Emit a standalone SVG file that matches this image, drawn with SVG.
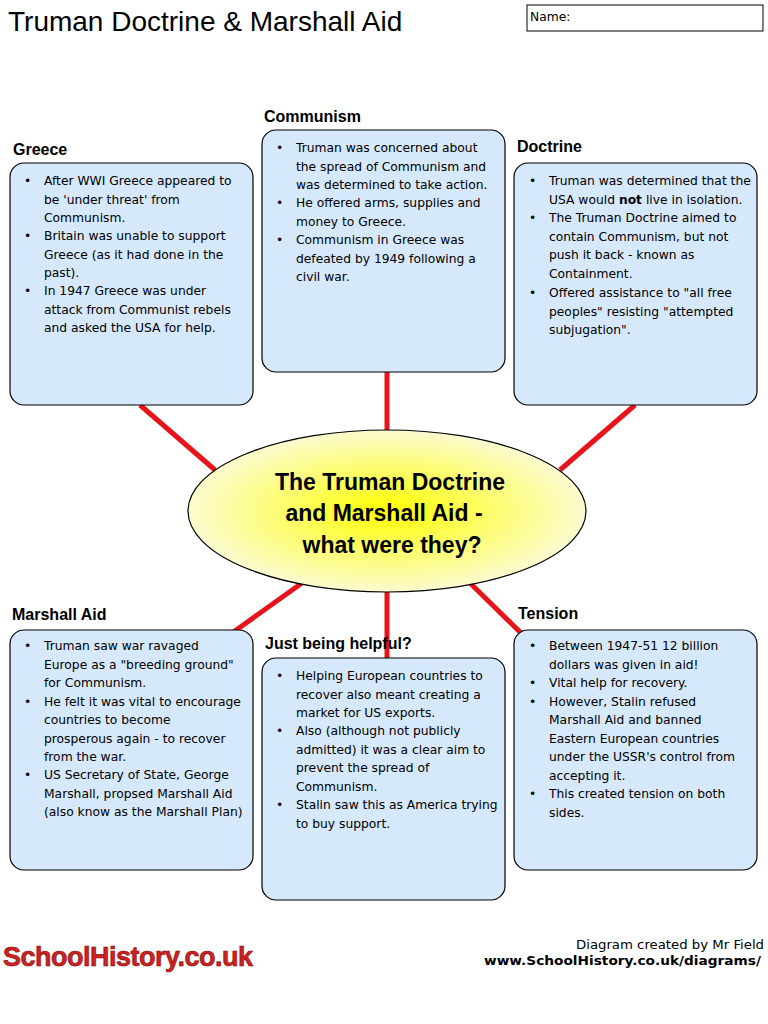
<svg xmlns="http://www.w3.org/2000/svg" width="768" height="1024" viewBox="0 0 768 1024">
<style>
.box{fill:#d6e8fb;stroke:#000;stroke-width:1.2}
.t{font-family:"DejaVu Sans",Verdana,sans-serif;font-size:12.3px;fill:#000}
.h{font-family:"Liberation Sans",Arial,sans-serif;font-size:16px;font-weight:bold;fill:#000}
.c{stroke:#e8141c;stroke-width:5}
.ct{font-family:"Liberation Sans",Arial,sans-serif;font-size:23px;font-weight:bold}
</style>
<defs>
<radialGradient id="g" cx="0.5" cy="0.5" r="0.5">
<stop offset="0" stop-color="#ffff00"/><stop offset="1" stop-color="#fbfbd0"/>
</radialGradient>
</defs>
<rect width="768" height="1024" fill="#fff"/>
<text x="8" y="31" font-family="Liberation Sans,Arial,sans-serif" font-size="28" fill="#000">Truman Doctrine &amp; Marshall Aid</text>
<g id="name"><rect x="527" y="5" width="236" height="26" fill="#fff" stroke="#000"/><text x="530" y="21" class="t">Name:</text></g>
<g id="connectors">
<line class="c" x1="140" y1="405" x2="215" y2="470"/>
<line class="c" x1="387" y1="372" x2="387" y2="432"/>
<line class="c" x1="635" y1="405" x2="560" y2="470"/>
<line class="c" x1="302" y1="583" x2="232" y2="633"/>
<line class="c" x1="387" y1="590" x2="387" y2="658"/>
<line class="c" x1="470" y1="583" x2="522" y2="634"/>
</g>
<g id="center">
<ellipse cx="387" cy="511" rx="199" ry="81" fill="url(#g)" stroke="#000" stroke-width="1.2"/>
<text x="390" y="490" text-anchor="middle" class="ct">The Truman Doctrine</text>
<text x="384" y="521" text-anchor="middle" class="ct">and Marshall Aid -</text>
<text x="392" y="553" text-anchor="middle" class="ct">what were they?</text>
</g>
<g id="greece">
<text x="13" y="155" class="h">Greece</text>
<rect class="box" x="10" y="163" width="243" height="242" rx="14"/>
<text class="t"><tspan x="24" y="185">•</tspan><tspan x="44" y="185">After WWI Greece appeared to</tspan><tspan x="44" y="204">be 'under threat' from</tspan><tspan x="44" y="222">Communism.</tspan><tspan x="24" y="240">•</tspan><tspan x="44" y="240">Britain was unable to support</tspan><tspan x="44" y="259">Greece (as it had done in the</tspan><tspan x="44" y="277">past).</tspan><tspan x="24" y="295">•</tspan><tspan x="44" y="295">In 1947 Greece was under</tspan><tspan x="44" y="314">attack from Communist rebels</tspan><tspan x="44" y="332">and asked the USA for help.</tspan></text>
</g>
<g id="communism">
<text x="264" y="122" class="h">Communism</text>
<rect class="box" x="262" y="130" width="243" height="242" rx="14"/>
<text class="t"><tspan x="276" y="152">•</tspan><tspan x="296" y="152">Truman was concerned about</tspan><tspan x="296" y="171">the spread of Communism and</tspan><tspan x="296" y="189">was determined to take action.</tspan><tspan x="276" y="207">•</tspan><tspan x="296" y="207">He offered arms, supplies and</tspan><tspan x="296" y="226">money to Greece.</tspan><tspan x="276" y="244">•</tspan><tspan x="296" y="244">Communism in Greece was</tspan><tspan x="296" y="263">defeated by 1949 following a</tspan><tspan x="296" y="281">civil war.</tspan></text>
</g>
<g id="doctrine">
<text x="517" y="152" class="h">Doctrine</text>
<rect class="box" x="514" y="163" width="243" height="242" rx="14"/>
<text class="t"><tspan x="529" y="185">•</tspan><tspan x="549" y="185">Truman was determined that the</tspan><tspan x="549" y="204">USA would <tspan font-weight="bold">not</tspan> live in isolation.</tspan><tspan x="529" y="222">•</tspan><tspan x="549" y="222">The Truman Doctrine aimed to</tspan><tspan x="549" y="241">contain Communism, but not</tspan><tspan x="549" y="259">push it back - known as</tspan><tspan x="549" y="278">Containment.</tspan><tspan x="529" y="297">•</tspan><tspan x="549" y="297">Offered assistance to "all free</tspan><tspan x="549" y="316">peoples" resisting "attempted</tspan><tspan x="549" y="334">subjugation".</tspan></text>
</g>
<g id="marshall">
<text x="12" y="620" class="h">Marshall Aid</text>
<rect class="box" x="10" y="630" width="243" height="240" rx="14"/>
<text class="t"><tspan x="24" y="650">•</tspan><tspan x="44" y="650">Truman saw war ravaged</tspan><tspan x="44" y="669">Europe as a "breeding ground"</tspan><tspan x="44" y="687">for Communism.</tspan><tspan x="24" y="706">•</tspan><tspan x="44" y="706">He felt it was vital to encourage</tspan><tspan x="44" y="724">countries to become</tspan><tspan x="44" y="743">prosperous again - to recover</tspan><tspan x="44" y="761">from the war.</tspan><tspan x="24" y="779">•</tspan><tspan x="44" y="779">US Secretary of State, George</tspan><tspan x="44" y="798">Marshall, propsed Marshall Aid</tspan><tspan x="44" y="816">(also know as the Marshall Plan)</tspan></text>
</g>
<g id="helpful">
<rect class="box" x="262" y="658" width="243" height="242" rx="14"/>
<text class="t"><tspan x="276" y="680">•</tspan><tspan x="296" y="680">Helping European countries to</tspan><tspan x="296" y="699">recover also meant creating a</tspan><tspan x="296" y="717">market for US exports.</tspan><tspan x="276" y="735">•</tspan><tspan x="296" y="735">Also (although not publicly</tspan><tspan x="296" y="754">admitted) it was a clear aim to</tspan><tspan x="296" y="772">prevent the spread of</tspan><tspan x="296" y="791">Communism.</tspan><tspan x="276" y="809">•</tspan><tspan x="296" y="809">Stalin saw this as America trying</tspan><tspan x="296" y="828">to buy support.</tspan></text>
<text x="265" y="649" class="h">Just being helpful?</text>
</g>
<g id="tension">
<text x="518" y="619" class="h">Tension</text>
<rect class="box" x="514" y="630" width="243" height="240" rx="14"/>
<text class="t"><tspan x="529" y="650">•</tspan><tspan x="549" y="650">Between 1947-51 12 billion</tspan><tspan x="549" y="669">dollars was given in aid!</tspan><tspan x="529" y="687">•</tspan><tspan x="549" y="687">Vital help for recovery.</tspan><tspan x="529" y="706">•</tspan><tspan x="549" y="706">However, Stalin refused</tspan><tspan x="549" y="724">Marshall Aid and banned</tspan><tspan x="549" y="743">Eastern European countries</tspan><tspan x="549" y="761">under the USSR's control from</tspan><tspan x="549" y="780">accepting it.</tspan><tspan x="529" y="798">•</tspan><tspan x="549" y="798">This created tension on both</tspan><tspan x="549" y="817">sides.</tspan></text>
</g>
<g id="footer">
<text x="3" y="966" font-family="Liberation Sans,Arial,sans-serif" font-size="27" font-weight="bold" fill="#d21f1f" stroke="#7a0c0c" stroke-width="0.6" textLength="250">SchoolHistory.co.uk</text>
<text x="576" y="949" font-family="DejaVu Sans,sans-serif" font-size="12.5" textLength="188" lengthAdjust="spacingAndGlyphs">Diagram created by Mr Field</text>
<text x="484" y="965" font-family="DejaVu Sans,sans-serif" font-size="12.5" font-weight="bold" textLength="277" lengthAdjust="spacingAndGlyphs">www.SchoolHistory.co.uk/diagrams/</text>
</g>
</svg>
